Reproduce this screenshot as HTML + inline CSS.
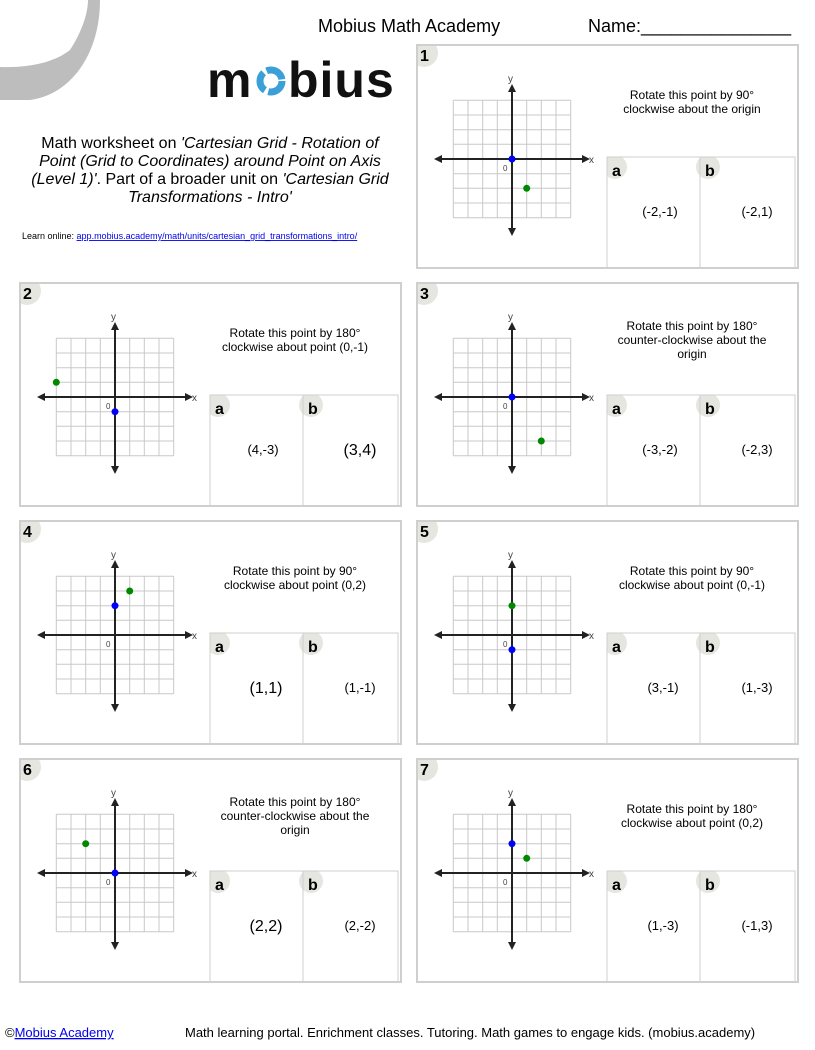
<!DOCTYPE html>
<html><head><meta charset="utf-8"><style>
body{margin:0;background:#fff;}
svg{display:block;font-family:"Liberation Sans",Arial,sans-serif;}
</style></head><body>
<svg width="815" height="1050" viewBox="0 0 815 1050" xmlns="http://www.w3.org/2000/svg">
<defs>
<clipPath id="pc"><rect x="0" y="0" width="381" height="223"/></clipPath>
<clipPath id="ac"><rect x="190" y="112" width="188" height="111"/></clipPath>
<g id="grid">
<g stroke="#c8c8c8" stroke-width="1">
<path d="M-58.7 -58.7V58.7M-44 -58.7V58.7M-29.3 -58.7V58.7M-14.7 -58.7V58.7M14.7 -58.7V58.7M29.3 -58.7V58.7M44 -58.7V58.7M58.7 -58.7V58.7"/>
<path d="M-58.7 -58.7H58.7M-58.7 -44H58.7M-58.7 -29.3H58.7M-58.7 -14.7H58.7M-58.7 14.7H58.7M-58.7 29.3H58.7M-58.7 44H58.7M-58.7 58.7H58.7"/>
</g>
<g stroke="#222" stroke-width="2"><path d="M-72 0H72M0 -69V71"/></g>
<g fill="#222"><path d="M-78 0l8-4v8z"/><path d="M78 0l-8-4v8z"/><path d="M0 -75l-4 8h8z"/><path d="M0 77l-4-8h8z"/></g>
<text x="-4" y="-77" font-size="10" fill="#444">y</text>
<text x="77" y="4" font-size="10" fill="#444">x</text>
<text x="-9" y="12" font-size="8" fill="#444">0</text>
</g>
<g id="frame">
<rect x="0" y="0" width="381" height="223" fill="#fff"/>
<circle cx="7" cy="8" r="14" fill="#e6e6e0" clip-path="url(#pc)"/>
<g clip-path="url(#ac)">
<circle cx="198" cy="122" r="12" fill="#e6e6e0"/>
<circle cx="291" cy="122" r="12" fill="#e6e6e0"/>
</g>
<rect x="190" y="112" width="93" height="111" fill="none" stroke="#cfcfcf" stroke-width="1"/>
<rect x="283" y="112" width="95" height="111" fill="none" stroke="#cfcfcf" stroke-width="1"/>
<rect x="0" y="0" width="381" height="223" fill="none" stroke="#cfcfcf" stroke-width="2"/>
<text x="195" y="131" font-size="16" font-weight="bold">a</text>
<text x="288" y="131" font-size="16" font-weight="bold">b</text>
<use href="#grid" x="95" y="114"/>
</g>
</defs>

<path d="M100 0 C100 55 70 95 30 100 L0 100 L0 67 C30 68 55 62 70 50 C80 35 88 15 88 0 Z" fill="#bdbdbd"/>
<text x="318" y="32" font-size="18">Mobius Math Academy</text>
<text x="588" y="32" font-size="18">Name:_______________</text>
<text x="207" y="97" font-size="50" font-weight="bold" fill="#111">m</text>
<circle cx="271" cy="81" r="11" fill="none" stroke="#3b9fd8" stroke-width="7" stroke-dasharray="20 3.5"/>
<text x="288" y="97" font-size="50" font-weight="bold" fill="#111" letter-spacing="1">bius</text>
<g font-size="16" text-anchor="middle">
<text x="210" y="148">Math worksheet on <tspan font-style="italic">'Cartesian Grid - Rotation of</tspan></text>
<text x="210" y="166" font-style="italic">Point (Grid to Coordinates) around Point on Axis</text>
<text x="210" y="184"><tspan font-style="italic">(Level 1)'</tspan>. Part of a broader unit on <tspan font-style="italic">'Cartesian Grid</tspan></text>
<text x="210" y="202" font-style="italic">Transformations - Intro'</text>
</g>
<text x="22" y="239" font-size="9">Learn online: <tspan fill="#00e" text-decoration="underline">app.mobius.academy/math/units/cartesian_grid_transformations_intro/</tspan></text>

<g transform="translate(417,45)">
<use href="#frame"/>
<text x="3" y="16" font-size="16" font-weight="bold">1</text>
<g font-size="12" text-anchor="middle"><text x="275" y="54">Rotate this point by 90°</text><text x="275" y="68">clockwise about the origin</text></g>
<circle cx="95" cy="114" r="3.5" fill="#00f"/><circle cx="109.7" cy="143.3" r="3.5" fill="#080"/>
<g font-size="13" text-anchor="middle"><text x="243" y="171">(-2,-1)</text><text x="340" y="171">(-2,1)</text></g>
</g>
<g transform="translate(20,283)">
<use href="#frame"/>
<text x="3" y="16" font-size="16" font-weight="bold">2</text>
<g font-size="12" text-anchor="middle"><text x="275" y="54">Rotate this point by 180°</text><text x="275" y="68">clockwise about point (0,-1)</text></g>
<circle cx="36.3" cy="99.3" r="3.5" fill="#080"/><circle cx="95" cy="128.7" r="3.5" fill="#00f"/>
<g text-anchor="middle"><text x="243" y="171" font-size="13">(4,-3)</text><text x="340" y="172" font-size="16">(3,4)</text></g>
</g>
<g transform="translate(417,283)">
<use href="#frame"/>
<text x="3" y="16" font-size="16" font-weight="bold">3</text>
<g font-size="12" text-anchor="middle"><text x="275" y="47">Rotate this point by 180°</text><text x="275" y="61">counter-clockwise about the</text><text x="275" y="75">origin</text></g>
<circle cx="95" cy="114" r="3.5" fill="#00f"/><circle cx="124.3" cy="158" r="3.5" fill="#080"/>
<g font-size="13" text-anchor="middle"><text x="243" y="171">(-3,-2)</text><text x="340" y="171">(-2,3)</text></g>
</g>
<g transform="translate(20,521)">
<use href="#frame"/>
<text x="3" y="16" font-size="16" font-weight="bold">4</text>
<g font-size="12" text-anchor="middle"><text x="275" y="54">Rotate this point by 90°</text><text x="275" y="68">clockwise about point (0,2)</text></g>
<circle cx="95" cy="84.7" r="3.5" fill="#00f"/><circle cx="109.7" cy="70" r="3.5" fill="#080"/>
<g text-anchor="middle"><text x="246" y="172" font-size="16">(1,1)</text><text x="340" y="171" font-size="13">(1,-1)</text></g>
</g>
<g transform="translate(417,521)">
<use href="#frame"/>
<text x="3" y="16" font-size="16" font-weight="bold">5</text>
<g font-size="12" text-anchor="middle"><text x="275" y="54">Rotate this point by 90°</text><text x="275" y="68">clockwise about point (0,-1)</text></g>
<circle cx="95" cy="84.7" r="3.5" fill="#080"/><circle cx="95" cy="128.7" r="3.5" fill="#00f"/>
<g font-size="13" text-anchor="middle"><text x="246" y="171">(3,-1)</text><text x="340" y="171">(1,-3)</text></g>
</g>
<g transform="translate(20,759)">
<use href="#frame"/>
<text x="3" y="16" font-size="16" font-weight="bold">6</text>
<g font-size="12" text-anchor="middle"><text x="275" y="47">Rotate this point by 180°</text><text x="275" y="61">counter-clockwise about the</text><text x="275" y="75">origin</text></g>
<circle cx="95" cy="114" r="3.5" fill="#00f"/><circle cx="65.7" cy="84.7" r="3.5" fill="#080"/>
<g text-anchor="middle"><text x="246" y="172" font-size="16">(2,2)</text><text x="340" y="171" font-size="13">(2,-2)</text></g>
</g>
<g transform="translate(417,759)">
<use href="#frame"/>
<text x="3" y="16" font-size="16" font-weight="bold">7</text>
<g font-size="12" text-anchor="middle"><text x="275" y="54">Rotate this point by 180°</text><text x="275" y="68">clockwise about point (0,2)</text></g>
<circle cx="95" cy="84.7" r="3.5" fill="#00f"/><circle cx="109.7" cy="99.3" r="3.5" fill="#080"/>
<g font-size="13" text-anchor="middle"><text x="246" y="171">(1,-3)</text><text x="340" y="171">(-1,3)</text></g>
</g>

<text x="5" y="1037" font-size="13">©<tspan fill="#00e" text-decoration="underline">Mobius Academy</tspan></text>
<text x="185" y="1037" font-size="13">Math learning portal. Enrichment classes. Tutoring. Math games to engage kids. (mobius.academy)</text>
</svg>
</body></html>
